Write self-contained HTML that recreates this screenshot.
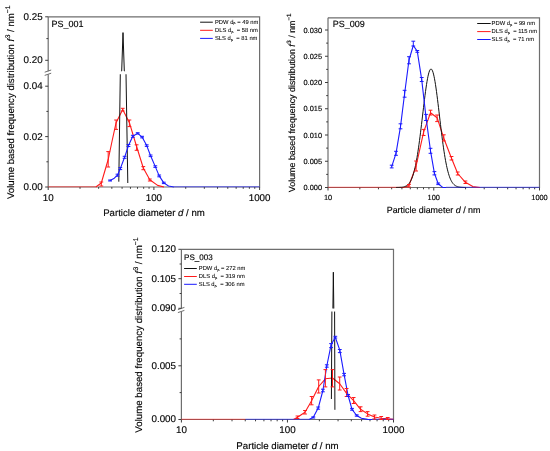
<!DOCTYPE html>
<html><head><meta charset="utf-8"><style>
html,body{margin:0;padding:0;background:#fff;}
svg{display:block;}
text{font-family:"Liberation Sans",Arial,sans-serif;fill:#000;stroke:#000;stroke-width:0.14px;text-rendering:geometricPrecision;}
</style></head><body>
<svg width="550" height="451" viewBox="0 0 550 451">
<rect width="550" height="451" fill="#fff"/>
<defs>
<clipPath id="c1u"><rect x="48" y="16" width="212" height="55.2"/></clipPath>
<clipPath id="c1l"><rect x="48" y="74.2" width="212" height="114"/></clipPath>
<clipPath id="c3u"><rect x="181" y="249" width="213" height="59.6"/></clipPath>
<clipPath id="c3l"><rect x="181" y="311.4" width="213" height="109"/></clipPath>
</defs>
<path d="M48.2,16.8 H259.6 V187 H48.2" fill="none" stroke="#6e6e6e" stroke-width="1.2"/>
<path d="M48.2,16.8 V71.2 M48.2,74.2 V187" fill="none" stroke="#6e6e6e" stroke-width="1.2"/>
<path d="M44.7,72.2 L51.2,70 M44.7,75.4 L51.2,73.2" fill="none" stroke="#6e6e6e" stroke-width="1"/>
<line x1="48.2" y1="187" x2="48.2" y2="190" stroke="#3c3c3c" stroke-width="1"/>
<text x="48.2" y="200.6" font-size="9.8" text-anchor="middle" >10</text>
<line x1="153.9" y1="187" x2="153.9" y2="190" stroke="#3c3c3c" stroke-width="1"/>
<text x="153.9" y="200.6" font-size="9.8" text-anchor="middle" >100</text>
<line x1="259.6" y1="187" x2="259.6" y2="190" stroke="#3c3c3c" stroke-width="1"/>
<text x="259.6" y="200.6" font-size="9.8" text-anchor="middle" >1000</text>
<line x1="80.02" y1="187" x2="80.02" y2="188.8" stroke="#3c3c3c" stroke-width="1"/>
<line x1="98.63" y1="187" x2="98.63" y2="188.8" stroke="#3c3c3c" stroke-width="1"/>
<line x1="111.84" y1="187" x2="111.84" y2="188.8" stroke="#3c3c3c" stroke-width="1"/>
<line x1="122.08" y1="187" x2="122.08" y2="188.8" stroke="#3c3c3c" stroke-width="1"/>
<line x1="130.45" y1="187" x2="130.45" y2="188.8" stroke="#3c3c3c" stroke-width="1"/>
<line x1="137.53" y1="187" x2="137.53" y2="188.8" stroke="#3c3c3c" stroke-width="1"/>
<line x1="143.66" y1="187" x2="143.66" y2="188.8" stroke="#3c3c3c" stroke-width="1"/>
<line x1="149.06" y1="187" x2="149.06" y2="188.8" stroke="#3c3c3c" stroke-width="1"/>
<line x1="185.72" y1="187" x2="185.72" y2="188.8" stroke="#3c3c3c" stroke-width="1"/>
<line x1="204.33" y1="187" x2="204.33" y2="188.8" stroke="#3c3c3c" stroke-width="1"/>
<line x1="217.54" y1="187" x2="217.54" y2="188.8" stroke="#3c3c3c" stroke-width="1"/>
<line x1="227.78" y1="187" x2="227.78" y2="188.8" stroke="#3c3c3c" stroke-width="1"/>
<line x1="236.15" y1="187" x2="236.15" y2="188.8" stroke="#3c3c3c" stroke-width="1"/>
<line x1="243.23" y1="187" x2="243.23" y2="188.8" stroke="#3c3c3c" stroke-width="1"/>
<line x1="249.36" y1="187" x2="249.36" y2="188.8" stroke="#3c3c3c" stroke-width="1"/>
<line x1="254.76" y1="187" x2="254.76" y2="188.8" stroke="#3c3c3c" stroke-width="1"/>
<line x1="45.2" y1="16.8" x2="48.2" y2="16.8" stroke="#3c3c3c" stroke-width="1"/>
<text x="42.6" y="19.94" font-size="9.8" text-anchor="end" >0.25</text>
<line x1="46.4" y1="38.6" x2="48.2" y2="38.6" stroke="#3c3c3c" stroke-width="1"/>
<line x1="45.2" y1="60.3" x2="48.2" y2="60.3" stroke="#3c3c3c" stroke-width="1"/>
<text x="42.6" y="63.44" font-size="9.8" text-anchor="end" >0.20</text>
<line x1="45.2" y1="86.2" x2="48.2" y2="86.2" stroke="#3c3c3c" stroke-width="1"/>
<text x="42.6" y="89.34" font-size="9.8" text-anchor="end" >0.04</text>
<line x1="46.4" y1="111.4" x2="48.2" y2="111.4" stroke="#3c3c3c" stroke-width="1"/>
<line x1="45.2" y1="136.6" x2="48.2" y2="136.6" stroke="#3c3c3c" stroke-width="1"/>
<text x="42.6" y="139.74" font-size="9.8" text-anchor="end" >0.02</text>
<line x1="46.4" y1="161.8" x2="48.2" y2="161.8" stroke="#3c3c3c" stroke-width="1"/>
<line x1="45.2" y1="187" x2="48.2" y2="187" stroke="#3c3c3c" stroke-width="1"/>
<text x="42.6" y="190.14" font-size="9.8" text-anchor="end" >0.00</text>
<line x1="48.2" y1="186.7" x2="95.8" y2="186.7" stroke="#ff1a1a" stroke-width="1.1" stroke-opacity="0.6"/>
<path d="M95.8,187 L101.3,183 L108.2,159.5 L112.2,140.5 L116.1,122.7 L122.7,109.6 L129.4,122.7 L136.6,146.5 L143.3,168 L149.8,179.8 L157.6,185.4 L164,187" fill="none" stroke="#ff1a1a" stroke-width="1.1" stroke-linejoin="round"/>
<path d="M118.8,181.7 L120.3,74 L121.7,71 L123,32.6 L124.3,71 L126,74 L127.8,183" fill="none" stroke="#111" stroke-width="1.0" stroke-linejoin="round" clip-path="url(#c1u)"/>
<path d="M118.8,181.7 L120.3,74 L121.7,71 L123,32.6 L124.3,71 L126,74 L127.8,183" fill="none" stroke="#111" stroke-width="1.0" stroke-linejoin="round" clip-path="url(#c1l)"/>
<path d="M110.1,180.5 L114.3,178.2 L117.5,175.2 L120.3,168.6 L124.6,157.3 L128.5,145.5 L132.8,136.3 L137.7,133.4 L142.1,137.1 L146.7,145.6 L150.6,155.7 L155.3,166.6 L159.2,175.9 L163.8,182.9 L168.5,186 L174,187" fill="none" stroke="#1a1aff" stroke-width="1.1" stroke-linejoin="round"/>
<line x1="174" y1="186.7" x2="259.6" y2="186.7" stroke="#1a1aff" stroke-width="1.1" stroke-opacity="0.6"/>
<path d="M101.3,182 V186 M99.4,182 H103.2 M99.4,186 H103.2" stroke="#ff1a1a" stroke-width="1.0" fill="none"/>
<path d="M108.2,151.6 V167 M106.3,151.6 H110.1 M106.3,167 H110.1" stroke="#ff1a1a" stroke-width="1.0" fill="none"/>
<path d="M116.1,120 V129.4 M114.2,120 H118 M114.2,129.4 H118" stroke="#ff1a1a" stroke-width="1.0" fill="none"/>
<path d="M122.7,108.3 V111 M120.8,108.3 H124.6 M120.8,111 H124.6" stroke="#ff1a1a" stroke-width="1.0" fill="none"/>
<path d="M129.4,120 V126.6 M127.5,120 H131.3 M127.5,126.6 H131.3" stroke="#ff1a1a" stroke-width="1.0" fill="none"/>
<path d="M136.6,144.8 V150.3 M134.7,144.8 H138.5 M134.7,150.3 H138.5" stroke="#ff1a1a" stroke-width="1.0" fill="none"/>
<path d="M143.3,166.6 V169.7 M141.4,166.6 H145.2 M141.4,169.7 H145.2" stroke="#ff1a1a" stroke-width="1.0" fill="none"/>
<path d="M149.8,179 V181 M147.9,179 H151.7 M147.9,181 H151.7" stroke="#ff1a1a" stroke-width="1.0" fill="none"/>
<path d="M110.1,180 V181 M108.2,180 H112 M108.2,181 H112" stroke="#1a1aff" stroke-width="1.0" fill="none"/>
<path d="M117.5,174.2 V176.2 M115.6,174.2 H119.4 M115.6,176.2 H119.4" stroke="#1a1aff" stroke-width="1.0" fill="none"/>
<path d="M120.3,167.6 V169.6 M118.4,167.6 H122.2 M118.4,169.6 H122.2" stroke="#1a1aff" stroke-width="1.0" fill="none"/>
<path d="M124.6,156.3 V158.3 M122.7,156.3 H126.5 M122.7,158.3 H126.5" stroke="#1a1aff" stroke-width="1.0" fill="none"/>
<path d="M128.5,144.5 V146.5 M126.6,144.5 H130.4 M126.6,146.5 H130.4" stroke="#1a1aff" stroke-width="1.0" fill="none"/>
<path d="M132.8,135.3 V137.3 M130.9,135.3 H134.7 M130.9,137.3 H134.7" stroke="#1a1aff" stroke-width="1.0" fill="none"/>
<path d="M137.7,132.7 V134 M135.8,132.7 H139.6 M135.8,134 H139.6" stroke="#1a1aff" stroke-width="1.0" fill="none"/>
<path d="M142.1,136.3 V137.9 M140.2,136.3 H144 M140.2,137.9 H144" stroke="#1a1aff" stroke-width="1.0" fill="none"/>
<path d="M146.7,144.8 V146.4 M144.8,144.8 H148.6 M144.8,146.4 H148.6" stroke="#1a1aff" stroke-width="1.0" fill="none"/>
<path d="M150.6,155 V156.6 M148.7,155 H152.5 M148.7,156.6 H152.5" stroke="#1a1aff" stroke-width="1.0" fill="none"/>
<path d="M155.3,165.8 V167.4 M153.4,165.8 H157.2 M153.4,167.4 H157.2" stroke="#1a1aff" stroke-width="1.0" fill="none"/>
<path d="M159.2,175 V176.8 M157.3,175 H161.1 M157.3,176.8 H161.1" stroke="#1a1aff" stroke-width="1.0" fill="none"/>
<path d="M163.8,182.2 V183.6 M161.9,182.2 H165.7 M161.9,183.6 H165.7" stroke="#1a1aff" stroke-width="1.0" fill="none"/>
<text transform="translate(14.2,102.3) rotate(-90)" font-size="9.62" text-anchor="middle">Volume based frequency distribution <tspan font-style="italic">f</tspan><tspan font-size="6.73" dx="0.48" dy="-3.85">3</tspan><tspan dy="3.85"> / nm</tspan><tspan font-size="6.73" dy="-3.85">−1</tspan></text>
<text x="154" y="215.6" font-size="9.65" text-anchor="middle">Particle diameter <tspan font-style="italic">d</tspan> / nm</text>
<text x="51.5" y="26.9" font-size="9" text-anchor="start" >PS_001</text>
<line x1="200.1" y1="22.2" x2="212.8" y2="22.2" stroke="#111" stroke-width="1"/>
<text x="215" y="24" font-size="5.8" style="stroke-width:0.06px">PDW d<tspan font-size="3.48" dy="1.45">P</tspan><tspan dy="-1.45" xml:space="preserve"> = 49 nm</tspan></text>
<line x1="200.1" y1="30.3" x2="212.8" y2="30.3" stroke="#ff1a1a" stroke-width="1"/>
<text x="215" y="32.1" font-size="5.8" style="stroke-width:0.06px">DLS d<tspan font-size="3.48" dy="1.45">P</tspan><tspan dy="-1.45" xml:space="preserve">  = 58 nm</tspan></text>
<line x1="200.1" y1="38.4" x2="212.8" y2="38.4" stroke="#1a1aff" stroke-width="1"/>
<text x="215" y="40.2" font-size="5.8" style="stroke-width:0.06px">SLS d<tspan font-size="3.48" dy="1.45">P</tspan><tspan dy="-1.45" xml:space="preserve">  = 81 nm</tspan></text>
<path d="M328,17.8 H539.5 V187.5 H328" fill="none" stroke="#6e6e6e" stroke-width="1.2"/>
<path d="M328,17.8 V187.5" fill="none" stroke="#6e6e6e" stroke-width="1.2"/>
<line x1="328" y1="187.5" x2="328" y2="190.5" stroke="#3c3c3c" stroke-width="1"/>
<text x="328" y="199.9" font-size="7.4" text-anchor="middle" >10</text>
<line x1="433.75" y1="187.5" x2="433.75" y2="190.5" stroke="#3c3c3c" stroke-width="1"/>
<text x="433.75" y="199.9" font-size="7.4" text-anchor="middle" >100</text>
<line x1="539.5" y1="187.5" x2="539.5" y2="190.5" stroke="#3c3c3c" stroke-width="1"/>
<text x="539.5" y="199.9" font-size="7.4" text-anchor="middle" >1000</text>
<line x1="359.83" y1="187.5" x2="359.83" y2="189.3" stroke="#3c3c3c" stroke-width="1"/>
<line x1="378.46" y1="187.5" x2="378.46" y2="189.3" stroke="#3c3c3c" stroke-width="1"/>
<line x1="391.67" y1="187.5" x2="391.67" y2="189.3" stroke="#3c3c3c" stroke-width="1"/>
<line x1="401.92" y1="187.5" x2="401.92" y2="189.3" stroke="#3c3c3c" stroke-width="1"/>
<line x1="410.29" y1="187.5" x2="410.29" y2="189.3" stroke="#3c3c3c" stroke-width="1"/>
<line x1="417.37" y1="187.5" x2="417.37" y2="189.3" stroke="#3c3c3c" stroke-width="1"/>
<line x1="423.5" y1="187.5" x2="423.5" y2="189.3" stroke="#3c3c3c" stroke-width="1"/>
<line x1="428.91" y1="187.5" x2="428.91" y2="189.3" stroke="#3c3c3c" stroke-width="1"/>
<line x1="465.58" y1="187.5" x2="465.58" y2="189.3" stroke="#3c3c3c" stroke-width="1"/>
<line x1="484.21" y1="187.5" x2="484.21" y2="189.3" stroke="#3c3c3c" stroke-width="1"/>
<line x1="497.42" y1="187.5" x2="497.42" y2="189.3" stroke="#3c3c3c" stroke-width="1"/>
<line x1="507.67" y1="187.5" x2="507.67" y2="189.3" stroke="#3c3c3c" stroke-width="1"/>
<line x1="516.04" y1="187.5" x2="516.04" y2="189.3" stroke="#3c3c3c" stroke-width="1"/>
<line x1="523.12" y1="187.5" x2="523.12" y2="189.3" stroke="#3c3c3c" stroke-width="1"/>
<line x1="529.25" y1="187.5" x2="529.25" y2="189.3" stroke="#3c3c3c" stroke-width="1"/>
<line x1="534.66" y1="187.5" x2="534.66" y2="189.3" stroke="#3c3c3c" stroke-width="1"/>
<line x1="325" y1="187.5" x2="328" y2="187.5" stroke="#3c3c3c" stroke-width="1"/>
<text x="322" y="190.09" font-size="7.4" text-anchor="end" >0.000</text>
<line x1="326.2" y1="174.38" x2="328" y2="174.38" stroke="#3c3c3c" stroke-width="1"/>
<line x1="325" y1="161.25" x2="328" y2="161.25" stroke="#3c3c3c" stroke-width="1"/>
<text x="322" y="163.84" font-size="7.4" text-anchor="end" >0.005</text>
<line x1="326.2" y1="148.12" x2="328" y2="148.12" stroke="#3c3c3c" stroke-width="1"/>
<line x1="325" y1="135" x2="328" y2="135" stroke="#3c3c3c" stroke-width="1"/>
<text x="322" y="137.59" font-size="7.4" text-anchor="end" >0.010</text>
<line x1="326.2" y1="121.88" x2="328" y2="121.88" stroke="#3c3c3c" stroke-width="1"/>
<line x1="325" y1="108.75" x2="328" y2="108.75" stroke="#3c3c3c" stroke-width="1"/>
<text x="322" y="111.34" font-size="7.4" text-anchor="end" >0.015</text>
<line x1="326.2" y1="95.62" x2="328" y2="95.62" stroke="#3c3c3c" stroke-width="1"/>
<line x1="325" y1="82.5" x2="328" y2="82.5" stroke="#3c3c3c" stroke-width="1"/>
<text x="322" y="85.09" font-size="7.4" text-anchor="end" >0.020</text>
<line x1="326.2" y1="69.38" x2="328" y2="69.38" stroke="#3c3c3c" stroke-width="1"/>
<line x1="325" y1="56.25" x2="328" y2="56.25" stroke="#3c3c3c" stroke-width="1"/>
<text x="322" y="58.84" font-size="7.4" text-anchor="end" >0.025</text>
<line x1="326.2" y1="43.12" x2="328" y2="43.12" stroke="#3c3c3c" stroke-width="1"/>
<line x1="325" y1="30" x2="328" y2="30" stroke="#3c3c3c" stroke-width="1"/>
<text x="322" y="32.59" font-size="7.4" text-anchor="end" >0.030</text>
<line x1="328" y1="187.2" x2="401" y2="187.2" stroke="#ff1a1a" stroke-width="1.1" stroke-opacity="0.6"/>
<path d="M401,187.5 L404.5,187.2 L408.9,185.8 L416.1,166 L423.6,132.1 L430.5,112.7 L437.1,117.7 L443.8,138.2 L451.5,158.2 L457.7,173.5 L465.4,182.3 L472.8,186.6 L480,187.5" fill="none" stroke="#ff1a1a" stroke-width="1.1" stroke-linejoin="round"/>
<path d="M396,187.48 L396.5,187.47 L397,187.46 L397.5,187.45 L398,187.44 L398.5,187.43 L399,187.41 L399.5,187.39 L400,187.36 L400.5,187.32 L401,187.28 L401.5,187.23 L402,187.17 L402.5,187.1 L403,187.01 L403.5,186.91 L404,186.78 L404.5,186.63 L405,186.46 L405.5,186.25 L406,186.01 L406.5,185.73 L407,185.4 L407.5,185.02 L408,184.58 L408.5,184.08 L409,183.5 L409.5,182.84 L410,182.1 L410.5,181.25 L411,180.3 L411.5,179.23 L412,178.04 L412.5,176.71 L413,175.24 L413.5,173.62 L414,171.84 L414.5,169.89 L415,167.77 L415.5,165.47 L416,162.98 L416.5,160.32 L417,157.46 L417.5,154.43 L418,151.21 L418.5,147.82 L419,144.27 L419.5,140.56 L420,136.71 L420.5,132.74 L421,128.67 L421.5,124.51 L422,120.3 L422.5,116.05 L423,111.8 L423.5,107.58 L424,103.42 L424.5,99.35 L425,95.4 L425.5,91.62 L426,88.03 L426.5,84.67 L427,81.56 L427.5,78.74 L428,76.24 L428.5,74.07 L429,72.27 L429.5,70.85 L430,69.83 L430.5,69.21 L431,69 L431.5,69.21 L432,69.83 L432.5,70.85 L433,72.27 L433.5,74.07 L434,76.24 L434.5,78.74 L435,81.56 L435.5,84.67 L436,88.03 L436.5,91.62 L437,95.4 L437.5,99.35 L438,103.42 L438.5,107.58 L439,111.8 L439.5,116.05 L440,120.3 L440.5,124.51 L441,128.67 L441.5,132.74 L442,136.71 L442.5,140.56 L443,144.27 L443.5,147.82 L444,151.21 L444.5,154.43 L445,157.46 L445.5,160.32 L446,162.98 L446.5,165.47 L447,167.77 L447.5,169.89 L448,171.84 L448.5,173.62 L449,175.24 L449.5,176.71 L450,178.04 L450.5,179.23 L451,180.3 L451.5,181.25 L452,182.1 L452.5,182.84 L453,183.5 L453.5,184.08 L454,184.58 L454.5,185.02 L455,185.4 L455.5,185.73 L456,186.01 L456.5,186.25 L457,186.46 L457.5,186.63 L458,186.78 L458.5,186.91 L459,187.01 L459.5,187.1 L460,187.17 L460.5,187.23 L461,187.28 L461.5,187.32 L462,187.36 L462.5,187.39 L463,187.41 L463.5,187.43 L464,187.44 L464.5,187.45 L465,187.46 L465.5,187.47 L466,187.48" fill="none" stroke="#111" stroke-width="1.0" stroke-linejoin="round"/>
<path d="M391.7,166.6 L396,153.3 L400.5,126.6 L404.6,93.7 L409,60 L413.3,45.5 L417.3,51.4 L421.7,79.6 L426,117.2 L430.5,150.8 L434.4,173.2 L438.2,183.8 L442.7,187.4 L446,187.5" fill="none" stroke="#1a1aff" stroke-width="1.1" stroke-linejoin="round"/>
<line x1="446" y1="187.2" x2="539.5" y2="187.2" stroke="#1a1aff" stroke-width="1.1" stroke-opacity="0.6"/>
<path d="M408.9,184.5 V187 M407,184.5 H410.8 M407,187 H410.8" stroke="#ff1a1a" stroke-width="1.0" fill="none"/>
<path d="M416.1,161 V171 M414.2,161 H418 M414.2,171 H418" stroke="#ff1a1a" stroke-width="1.0" fill="none"/>
<path d="M423.6,129.4 V135.5 M421.7,129.4 H425.5 M421.7,135.5 H425.5" stroke="#ff1a1a" stroke-width="1.0" fill="none"/>
<path d="M430.5,110.2 V115 M428.6,110.2 H432.4 M428.6,115 H432.4" stroke="#ff1a1a" stroke-width="1.0" fill="none"/>
<path d="M437.1,115 V121.6 M435.2,115 H439 M435.2,121.6 H439" stroke="#ff1a1a" stroke-width="1.0" fill="none"/>
<path d="M443.8,134.8 V141 M441.9,134.8 H445.7 M441.9,141 H445.7" stroke="#ff1a1a" stroke-width="1.0" fill="none"/>
<path d="M451.5,156.5 V160 M449.6,156.5 H453.4 M449.6,160 H453.4" stroke="#ff1a1a" stroke-width="1.0" fill="none"/>
<path d="M457.7,172 V175 M455.8,172 H459.6 M455.8,175 H459.6" stroke="#ff1a1a" stroke-width="1.0" fill="none"/>
<path d="M465.4,181 V183.5 M463.5,181 H467.3 M463.5,183.5 H467.3" stroke="#ff1a1a" stroke-width="1.0" fill="none"/>
<path d="M391.7,165.2 V167.9 M389.8,165.2 H393.6 M389.8,167.9 H393.6" stroke="#1a1aff" stroke-width="1.0" fill="none"/>
<path d="M396,151.3 V155.3 M394.1,151.3 H397.9 M394.1,155.3 H397.9" stroke="#1a1aff" stroke-width="1.0" fill="none"/>
<path d="M400.5,123.8 V128.8 M398.6,123.8 H402.4 M398.6,128.8 H402.4" stroke="#1a1aff" stroke-width="1.0" fill="none"/>
<path d="M404.6,90.3 V97.2 M402.7,90.3 H406.5 M402.7,97.2 H406.5" stroke="#1a1aff" stroke-width="1.0" fill="none"/>
<path d="M409,56.7 V63.8 M407.1,56.7 H410.9 M407.1,63.8 H410.9" stroke="#1a1aff" stroke-width="1.0" fill="none"/>
<path d="M413.3,41.2 V46 M411.4,41.2 H415.2 M411.4,46 H415.2" stroke="#1a1aff" stroke-width="1.0" fill="none"/>
<path d="M417.3,50.5 V52.3 M415.4,50.5 H419.2 M415.4,52.3 H419.2" stroke="#1a1aff" stroke-width="1.0" fill="none"/>
<path d="M421.7,77.5 V81.5 M419.8,77.5 H423.6 M419.8,81.5 H423.6" stroke="#1a1aff" stroke-width="1.0" fill="none"/>
<path d="M426,114.4 V120.5 M424.1,114.4 H427.9 M424.1,120.5 H427.9" stroke="#1a1aff" stroke-width="1.0" fill="none"/>
<path d="M430.5,148.3 V153.3 M428.6,148.3 H432.4 M428.6,153.3 H432.4" stroke="#1a1aff" stroke-width="1.0" fill="none"/>
<path d="M434.4,171.6 V174.9 M432.5,171.6 H436.3 M432.5,174.9 H436.3" stroke="#1a1aff" stroke-width="1.0" fill="none"/>
<path d="M438.2,183 V184.6 M436.3,183 H440.1 M436.3,184.6 H440.1" stroke="#1a1aff" stroke-width="1.0" fill="none"/>
<text transform="translate(294.6,102.8) rotate(-90)" font-size="8.88" text-anchor="middle">Volume based frequency distribution <tspan font-style="italic">f</tspan><tspan font-size="6.22" dx="0.44" dy="-3.55">3</tspan><tspan dy="3.55"> / nm</tspan><tspan font-size="6.22" dy="-3.55">−1</tspan></text>
<text x="433.6" y="213.2" font-size="8.9" text-anchor="middle">Particle diameter <tspan font-style="italic">d</tspan> / nm</text>
<text x="332.7" y="27.4" font-size="9" text-anchor="start" >PS_009</text>
<line x1="477.2" y1="23.5" x2="490.7" y2="23.5" stroke="#111" stroke-width="1"/>
<text x="491.6" y="25.3" font-size="5.8" style="stroke-width:0.06px">PDW d<tspan font-size="3.48" dy="1.45">P</tspan><tspan dy="-1.45" xml:space="preserve"> = 99 nm</tspan></text>
<line x1="477.2" y1="31.6" x2="490.7" y2="31.6" stroke="#ff1a1a" stroke-width="1"/>
<text x="491.6" y="33.4" font-size="5.8" style="stroke-width:0.06px">DLS d<tspan font-size="3.48" dy="1.45">P</tspan><tspan dy="-1.45" xml:space="preserve">  = 115 nm</tspan></text>
<line x1="477.2" y1="39.5" x2="490.7" y2="39.5" stroke="#1a1aff" stroke-width="1"/>
<text x="491.6" y="41.3" font-size="5.8" style="stroke-width:0.06px">SLS d<tspan font-size="3.48" dy="1.45">P</tspan><tspan dy="-1.45" xml:space="preserve">  = 71 nm</tspan></text>
<path d="M181.4,249.3 H393.5 V419.5 H181.4" fill="none" stroke="#6e6e6e" stroke-width="1.2"/>
<path d="M181.4,249.3 V308.6 M181.4,311.4 V419.5" fill="none" stroke="#6e6e6e" stroke-width="1.2"/>
<path d="M177.9,309.6 L184.4,307.4 M177.9,312.6 L184.4,310.4" fill="none" stroke="#6e6e6e" stroke-width="1"/>
<line x1="181.4" y1="419.5" x2="181.4" y2="422.5" stroke="#3c3c3c" stroke-width="1"/>
<text x="181.4" y="433.3" font-size="9.8" text-anchor="middle" >10</text>
<line x1="287.45" y1="419.5" x2="287.45" y2="422.5" stroke="#3c3c3c" stroke-width="1"/>
<text x="287.45" y="433.3" font-size="9.8" text-anchor="middle" >100</text>
<line x1="393.5" y1="419.5" x2="393.5" y2="422.5" stroke="#3c3c3c" stroke-width="1"/>
<text x="393.5" y="433.3" font-size="9.8" text-anchor="middle" >1000</text>
<line x1="213.32" y1="419.5" x2="213.32" y2="421.3" stroke="#3c3c3c" stroke-width="1"/>
<line x1="232" y1="419.5" x2="232" y2="421.3" stroke="#3c3c3c" stroke-width="1"/>
<line x1="245.25" y1="419.5" x2="245.25" y2="421.3" stroke="#3c3c3c" stroke-width="1"/>
<line x1="255.53" y1="419.5" x2="255.53" y2="421.3" stroke="#3c3c3c" stroke-width="1"/>
<line x1="263.92" y1="419.5" x2="263.92" y2="421.3" stroke="#3c3c3c" stroke-width="1"/>
<line x1="271.02" y1="419.5" x2="271.02" y2="421.3" stroke="#3c3c3c" stroke-width="1"/>
<line x1="277.17" y1="419.5" x2="277.17" y2="421.3" stroke="#3c3c3c" stroke-width="1"/>
<line x1="282.6" y1="419.5" x2="282.6" y2="421.3" stroke="#3c3c3c" stroke-width="1"/>
<line x1="319.37" y1="419.5" x2="319.37" y2="421.3" stroke="#3c3c3c" stroke-width="1"/>
<line x1="338.05" y1="419.5" x2="338.05" y2="421.3" stroke="#3c3c3c" stroke-width="1"/>
<line x1="351.3" y1="419.5" x2="351.3" y2="421.3" stroke="#3c3c3c" stroke-width="1"/>
<line x1="361.58" y1="419.5" x2="361.58" y2="421.3" stroke="#3c3c3c" stroke-width="1"/>
<line x1="369.97" y1="419.5" x2="369.97" y2="421.3" stroke="#3c3c3c" stroke-width="1"/>
<line x1="377.07" y1="419.5" x2="377.07" y2="421.3" stroke="#3c3c3c" stroke-width="1"/>
<line x1="383.22" y1="419.5" x2="383.22" y2="421.3" stroke="#3c3c3c" stroke-width="1"/>
<line x1="388.65" y1="419.5" x2="388.65" y2="421.3" stroke="#3c3c3c" stroke-width="1"/>
<line x1="178.4" y1="249.3" x2="181.4" y2="249.3" stroke="#3c3c3c" stroke-width="1"/>
<text x="176" y="252.24" font-size="9.8" text-anchor="end" >0.120</text>
<line x1="179.6" y1="264" x2="181.4" y2="264" stroke="#3c3c3c" stroke-width="1"/>
<line x1="178.4" y1="278.7" x2="181.4" y2="278.7" stroke="#3c3c3c" stroke-width="1"/>
<text x="176" y="281.64" font-size="9.8" text-anchor="end" >0.105</text>
<line x1="179.6" y1="293.5" x2="181.4" y2="293.5" stroke="#3c3c3c" stroke-width="1"/>
<line x1="178.4" y1="308.3" x2="181.4" y2="308.3" stroke="#3c3c3c" stroke-width="1"/>
<text x="176" y="311.24" font-size="9.8" text-anchor="end" >0.090</text>
<line x1="179.6" y1="338.9" x2="181.4" y2="338.9" stroke="#3c3c3c" stroke-width="1"/>
<line x1="178.4" y1="365.8" x2="181.4" y2="365.8" stroke="#3c3c3c" stroke-width="1"/>
<text x="176" y="368.74" font-size="9.8" text-anchor="end" >0.005</text>
<line x1="179.6" y1="392.6" x2="181.4" y2="392.6" stroke="#3c3c3c" stroke-width="1"/>
<line x1="178.4" y1="419.5" x2="181.4" y2="419.5" stroke="#3c3c3c" stroke-width="1"/>
<text x="176" y="422.44" font-size="9.8" text-anchor="end" >0.000</text>
<line x1="181.4" y1="419.2" x2="245.5" y2="419.2" stroke="#ff1a1a" stroke-width="1.1" stroke-opacity="0.6"/>
<path d="M293.5,419.5 L297.5,417.3 L305,412.3 L311.6,400.7 L318.7,386.5 L325.4,378.8 L332.5,378 L339.7,383.8 L346.6,393.4 L353.6,400.7 L360.6,409.3 L367.6,413.9 L374.5,417 L381.2,418.3 L387.7,418.9 L393.5,419.2" fill="none" stroke="#ff1a1a" stroke-width="1.1" stroke-linejoin="round"/>
<path d="M331.4,399 L331.9,311.4 L332.9,308.6 L333.35,272.2 L333.8,308.6 L334.6,311.4 L334.9,409.8" fill="none" stroke="#111" stroke-width="1.0" stroke-linejoin="round" clip-path="url(#c3u)"/>
<path d="M331.4,399 L331.9,311.4 L332.9,308.6 L333.35,272.2 L333.8,308.6 L334.6,311.4 L334.9,409.8" fill="none" stroke="#111" stroke-width="1.0" stroke-linejoin="round" clip-path="url(#c3l)"/>
<path d="M309,419.5 L313.3,417.3 L318.2,408.1 L322.9,390.5 L326.8,366 L331.1,344.8 L335.3,337.2 L339.8,350.1 L344.1,374.6 L348.1,395.5 L352,409.3 L356.7,415.5 L361.4,418.3 L367.6,419.4 L372,419.5" fill="none" stroke="#1a1aff" stroke-width="1.1" stroke-linejoin="round"/>
<line x1="245.5" y1="419.2" x2="309" y2="419.2" stroke="#1a1aff" stroke-width="1.1" stroke-opacity="0.6"/>
<line x1="372" y1="419.2" x2="393.5" y2="419.2" stroke="#1a1aff" stroke-width="1.1" stroke-opacity="0.6"/>
<path d="M297.5,416 V418.5 M295.6,416 H299.4 M295.6,418.5 H299.4" stroke="#ff1a1a" stroke-width="1.0" fill="none"/>
<path d="M305,410.5 V414 M303.1,410.5 H306.9 M303.1,414 H306.9" stroke="#ff1a1a" stroke-width="1.0" fill="none"/>
<path d="M311.6,396.5 V404.8 M309.7,396.5 H313.5 M309.7,404.8 H313.5" stroke="#ff1a1a" stroke-width="1.0" fill="none"/>
<path d="M318.7,379.9 V393 M316.8,379.9 H320.6 M316.8,393 H320.6" stroke="#ff1a1a" stroke-width="1.0" fill="none"/>
<path d="M325.4,369.6 V386.9 M323.5,369.6 H327.3 M323.5,386.9 H327.3" stroke="#ff1a1a" stroke-width="1.0" fill="none"/>
<path d="M332.5,369.6 V386.9 M330.6,369.6 H334.4 M330.6,386.9 H334.4" stroke="#ff1a1a" stroke-width="1.0" fill="none"/>
<path d="M339.7,377 V390 M337.8,377 H341.6 M337.8,390 H341.6" stroke="#ff1a1a" stroke-width="1.0" fill="none"/>
<path d="M346.6,388.5 V396.5 M344.7,388.5 H348.5 M344.7,396.5 H348.5" stroke="#ff1a1a" stroke-width="1.0" fill="none"/>
<path d="M353.6,397.5 V403.5 M351.7,397.5 H355.5 M351.7,403.5 H355.5" stroke="#ff1a1a" stroke-width="1.0" fill="none"/>
<path d="M360.6,406.8 V411.6 M358.7,406.8 H362.5 M358.7,411.6 H362.5" stroke="#ff1a1a" stroke-width="1.0" fill="none"/>
<path d="M367.6,411.6 V416.2 M365.7,411.6 H369.5 M365.7,416.2 H369.5" stroke="#ff1a1a" stroke-width="1.0" fill="none"/>
<path d="M374.5,415 V419 M372.6,415 H376.4 M372.6,419 H376.4" stroke="#ff1a1a" stroke-width="1.0" fill="none"/>
<path d="M381.2,416.5 V419.5 M379.3,416.5 H383.1 M379.3,419.5 H383.1" stroke="#ff1a1a" stroke-width="1.0" fill="none"/>
<path d="M387.7,417.5 V419.5 M385.8,417.5 H389.6 M385.8,419.5 H389.6" stroke="#ff1a1a" stroke-width="1.0" fill="none"/>
<path d="M313.3,416.8 V418 M311.4,416.8 H315.2 M311.4,418 H315.2" stroke="#1a1aff" stroke-width="1.0" fill="none"/>
<path d="M318.2,407 V409.2 M316.3,407 H320.1 M316.3,409.2 H320.1" stroke="#1a1aff" stroke-width="1.0" fill="none"/>
<path d="M322.9,389.2 V391.8 M321,389.2 H324.8 M321,391.8 H324.8" stroke="#1a1aff" stroke-width="1.0" fill="none"/>
<path d="M326.8,364.8 V367.2 M324.9,364.8 H328.7 M324.9,367.2 H328.7" stroke="#1a1aff" stroke-width="1.0" fill="none"/>
<path d="M331.1,343.6 V347.6 M329.2,343.6 H333 M329.2,347.6 H333" stroke="#1a1aff" stroke-width="1.0" fill="none"/>
<path d="M335.3,336.3 V338 M333.4,336.3 H337.2 M333.4,338 H337.2" stroke="#1a1aff" stroke-width="1.0" fill="none"/>
<path d="M339.8,349.5 V352.6 M337.9,349.5 H341.7 M337.9,352.6 H341.7" stroke="#1a1aff" stroke-width="1.0" fill="none"/>
<path d="M344.1,373.4 V375.8 M342.2,373.4 H346 M342.2,375.8 H346" stroke="#1a1aff" stroke-width="1.0" fill="none"/>
<path d="M348.1,394.5 V396.5 M346.2,394.5 H350 M346.2,396.5 H350" stroke="#1a1aff" stroke-width="1.0" fill="none"/>
<path d="M352,408.4 V410.2 M350.1,408.4 H353.9 M350.1,410.2 H353.9" stroke="#1a1aff" stroke-width="1.0" fill="none"/>
<path d="M356.7,414.8 V416.2 M354.8,414.8 H358.6 M354.8,416.2 H358.6" stroke="#1a1aff" stroke-width="1.0" fill="none"/>
<text transform="translate(142.2,335.1) rotate(-90)" font-size="9.7" text-anchor="middle">Volume based frequency distribution <tspan font-style="italic">f</tspan><tspan font-size="6.79" dx="0.48" dy="-3.88">3</tspan><tspan dy="3.88"> / nm</tspan><tspan font-size="6.79" dy="-3.88">−1</tspan></text>
<text x="287.5" y="448.8" font-size="9.7" text-anchor="middle">Particle diameter <tspan font-style="italic">d</tspan> / nm</text>
<text x="184.1" y="260" font-size="8.05" text-anchor="start" >PS_003</text>
<line x1="184.1" y1="268.5" x2="196.8" y2="268.5" stroke="#111" stroke-width="1"/>
<text x="198.8" y="270.3" font-size="5.8" style="stroke-width:0.06px">PDW d<tspan font-size="3.48" dy="1.45">P</tspan><tspan dy="-1.45" xml:space="preserve"> = 272 nm</tspan></text>
<line x1="184.1" y1="276.5" x2="196.8" y2="276.5" stroke="#ff1a1a" stroke-width="1"/>
<text x="198.8" y="278.3" font-size="5.8" style="stroke-width:0.06px">DLS d<tspan font-size="3.48" dy="1.45">P</tspan><tspan dy="-1.45" xml:space="preserve">  = 319 nm</tspan></text>
<line x1="184.1" y1="284.3" x2="196.8" y2="284.3" stroke="#1a1aff" stroke-width="1"/>
<text x="198.8" y="286.1" font-size="5.8" style="stroke-width:0.06px">SLS d<tspan font-size="3.48" dy="1.45">P</tspan><tspan dy="-1.45" xml:space="preserve">  = 306 nm</tspan></text>
</svg>
</body></html>
